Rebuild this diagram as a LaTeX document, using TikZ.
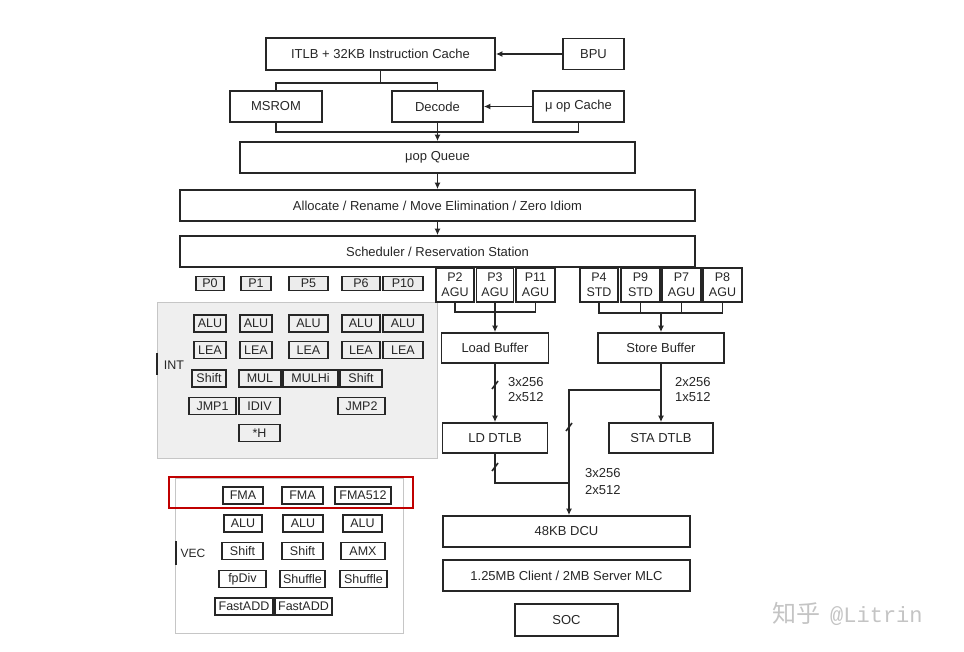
\documentclass[tikz,border=0pt]{standalone}
\usepackage{fontspec}
\setmainfont{Liberation Sans}
\newfontfamily\cjk{Noto Sans CJK SC}
\newfontfamily\wmmono{Liberation Mono}
\usetikzlibrary{arrows.meta,calc}
\definecolor{fline}{HTML}{262626}
\definecolor{fgrid}{HTML}{EFEFEF}
\definecolor{fedge}{HTML}{C6C6C6}
\definecolor{fport}{HTML}{ECECEC}
\definecolor{fred}{HTML}{C00000}
\definecolor{fmark}{HTML}{C4C4C4}
\tikzset{
  block/.style = {draw=fline, line width=1.7pt, rectangle, inner sep=0pt,
                  align=center, text=fline, font=\fontsize{13}{15}\selectfont},
  unit/.style  = {draw=fline, line width=1.5pt, rectangle, inner sep=0pt,
                  minimum height=17, text=fline, font=\fontsize{12.5}{14}\selectfont},
  port/.style  = {unit, fill=fport, minimum height=14},
  agu/.style   = {block, fill=white, minimum height=34, font=\fontsize{12.5}{15}\selectfont},
  width/.style = {inner sep=0pt, anchor=west, align=left, text=fline,
                  font=\fontsize{13}{15}\selectfont},
  sig/.style   = {-{Latex[length=6.5pt,width=6pt]}, line width=1.6pt, fline},
  wire/.style  = {line width=1.6pt, fline},
}

\begin{document}
\begin{tikzpicture}[x=1pt,y=-1pt]
\useasboundingbox (0,0) rectangle (964,652);
% front end
\node[block, minimum width=229, minimum height=32] (itlb) at (380.5,54) {ITLB + 32KB Instruction Cache};
\node[block, minimum width=61, minimum height=31] (bpu) at (593.5,54) {BPU};
\node[block, minimum width=92, minimum height=31] (msrom) at (276,106.5) {MSROM};
\node[block, minimum width=91, minimum height=31] (decode) at (437.5,106.5) {Decode};
\node[block, minimum width=91, minimum height=31] (ucache) at (578.5,106.5) {μ op Cache};
\node[block, minimum width=395, minimum height=31] (queue) at (437.5,157.5) {μop Queue};
\node[block, minimum width=515, minimum height=31] (alloc) at (437.5,205.5) {Allocate / Rename / Move Elimination / Zero Idiom};
\node[block, minimum width=515, minimum height=31] (sched) at (437.5,251.5) {Scheduler / Reservation Station};

\draw[sig] (bpu.west) -- (itlb.east);
\draw[sig] (ucache.west) -- (decode.east);
\coordinate (fork) at ($(itlb.south)+(0,12)$);
\draw[wire] (itlb.south) -- (fork);
\draw[wire] (msrom.north) |- (fork) -| (decode.north);
\coordinate (join) at (437.5,132);
\draw[wire] (msrom.south) |- (join) -| (ucache.south);
\draw[wire] (decode.south) -- (join);
\draw[sig] (join) -- (queue.north);
\draw[sig] (queue.south) -- (alloc.north);
\draw[sig] (alloc.south) -- (sched.north);

% integer ports
\node[port, minimum width=28] (p0) at (210,283.5) {P0};
\node[port, minimum width=30] (p1) at (256,283.5) {P1};
\node[port, minimum width=39] (p5) at (308.5,283.5) {P5};
\node[port, minimum width=38] (p6) at (361,283.5) {P6};
\node[port, minimum width=40] (p10) at (403,283.5) {P10};

\draw[fedge, fill=fgrid, line width=1pt] (157,303) rectangle (437,458);
\draw[fline, line width=1.8pt] (157,353) -- (157,375);
\node[text=fline, font=\fontsize{12.5}{14}\selectfont] (intlbl) at (174,365) {INT};

\node[unit, minimum width=32] (ialua) at (210,323.5) {ALU};
\node[unit, minimum width=32] (ialub) at (256,323.5) {ALU};
\node[unit, minimum width=39] (ialuc) at (308.5,323.5) {ALU};
\node[unit, minimum width=38] (ialud) at (361,323.5) {ALU};
\node[unit, minimum width=40] (ialue) at (403,323.5) {ALU};
\node[unit, minimum width=32] (ileaa) at (210,350) {LEA};
\node[unit, minimum width=32] (ileab) at (256,350) {LEA};
\node[unit, minimum width=39] (ileac) at (308.5,350) {LEA};
\node[unit, minimum width=38] (ilead) at (361,350) {LEA};
\node[unit, minimum width=40] (ileae) at (403,350) {LEA};
\node[unit, minimum width=34] (ishfa) at (209,378.5) {Shift};
\node[unit, minimum width=42] (imul) at (260,378.5) {MUL};
\node[unit, minimum width=55] (imulhi) at (310.5,378.5) {MULHi};
\node[unit, minimum width=42] (ishfb) at (361,378.5) {Shift};
\node[unit, minimum width=47] (ijmpa) at (212.5,406) {JMP1};
\node[unit, minimum width=41] (idiv) at (259.5,406) {IDIV};
\node[unit, minimum width=47] (ijmpb) at (361.5,406) {JMP2};
\node[unit, minimum width=41] (istarh) at (259.5,433) {*H};

% vector units
\draw[fedge, line width=1pt] (175,478) rectangle (403,633);
\draw[fline, line width=1.8pt] (176,541) -- (176,565);
\node[text=fline, font=\fontsize{12}{14}\selectfont] (veclbl) at (193,553) {VEC};
\draw[fred, line width=1.5pt] (169,477) rectangle (413,508);

\node[unit, minimum width=40] (vfmaa) at (243,495.5) {FMA};
\node[unit, minimum width=41] (vfmab) at (302.5,495.5) {FMA};
\node[unit, minimum width=56] (vfmac) at (363,495.5) {FMA512};
\node[unit, minimum width=38] (valua) at (243,523.5) {ALU};
\node[unit, minimum width=40] (valub) at (303,523.5) {ALU};
\node[unit, minimum width=39] (valuc) at (362.5,523.5) {ALU};
\node[unit, minimum width=41] (vshfa) at (242.5,551) {Shift};
\node[unit, minimum width=41] (vshfb) at (302.5,551) {Shift};
\node[unit, minimum width=44] (vamx) at (363,551) {AMX};
\node[unit, minimum width=47] (vfpdiv) at (242.5,579) {fpDiv};
\node[unit, minimum width=45] (vshufa) at (302.5,579) {Shuffle};
\node[unit, minimum width=47] (vshufb) at (363.5,579) {Shuffle};
\node[unit, minimum width=58] (vfadda) at (244,606.5) {FastADD};
\node[unit, minimum width=57] (vfaddb) at (303.5,606.5) {FastADD};

% memory ports and pipeline
\node[agu, minimum width=38] (p2) at (455,285) {P2\\AGU};
\node[agu, minimum width=37] (p3) at (495,285) {P3\\AGU};
\node[agu, minimum width=39] (p11) at (535.5,285) {P11\\AGU};
\node[agu, minimum width=38] (p4) at (599,285) {P4\\STD};
\node[agu, minimum width=39] (p9) at (640.5,285) {P9\\STD};
\node[agu, minimum width=39] (p7) at (681.5,285) {P7\\AGU};
\node[agu, minimum width=39] (p8) at (722.5,285) {P8\\AGU};

\node[block, minimum width=107, minimum height=30] (ldbuf) at (495,348) {Load Buffer};
\node[block, minimum width=126, minimum height=30] (stbuf) at (661,348) {Store Buffer};
\node[block, minimum width=105, minimum height=30] (lddtlb) at (495,438) {LD DTLB};
\node[block, minimum width=104, minimum height=30] (stadtlb) at (661,438) {STA DTLB};
\node[block, minimum width=247, minimum height=31] (dcu) at (566.5,531.5) {48KB DCU};
\node[block, minimum width=247, minimum height=31] (mlc) at (566.5,575.5) {1.25MB Client / 2MB Server MLC};
\node[block, minimum width=103, minimum height=32] (soc) at (566.5,620) {SOC};

\coordinate (ldbus) at (495,312);
\draw[wire] (p2.south) |- (ldbus) -| (p11.south);
\draw[sig] (p3.south) -- (ldbuf.north);
\coordinate (stbus) at (661,313);
\draw[wire] (p4.south) |- (stbus) -| (p8.south);
\draw[wire] (p9.south) -- (p9.south |- stbus);
\draw[wire] (p7.south) -- (p7.south |- stbus);
\draw[sig] (stbus) -- (stbuf.north);

\draw[sig] (ldbuf.south) -- (lddtlb.north);
\draw[sig] (stbuf.south) -- (stadtlb.north);
\coordinate (stfork) at (661,390);
\coordinate (dcuin) at (569,390);
\draw[sig] (stfork) -- (dcuin) -- (dcuin |- dcu.north);
\coordinate (ldmerge) at (569,483);
\draw[wire] (lddtlb.south) |- (ldmerge);

% bus width ticks
\coordinate (ldcut) at (495,385);
\coordinate (stcut) at (569,427);
\coordinate (dtcut) at (495,467);
\draw[wire] ($(ldcut)+(-3,4)$) -- ($(ldcut)+(3,-4)$);
\draw[wire] ($(stcut)+(-3,4)$) -- ($(stcut)+(3,-4)$);
\draw[wire] ($(dtcut)+(-3,4)$) -- ($(dtcut)+(3,-4)$);
\node[width] (ldw) at (508,389.5) {3x256\\2x512};
\node[width] (stw) at (675,389.5) {2x256\\1x512};
\node[width, font=\fontsize{13}{17}\selectfont] (dcuw) at (585,481.5) {3x256\\2x512};

\node[fmark, anchor=west, inner sep=0pt] (wm) at (772,614)
  {\fontsize{24}{26}\selectfont\cjk 知乎\hspace{10pt}\fontsize{22}{26}\selectfont\wmmono @Litrin};
\end{tikzpicture}
\end{document}
